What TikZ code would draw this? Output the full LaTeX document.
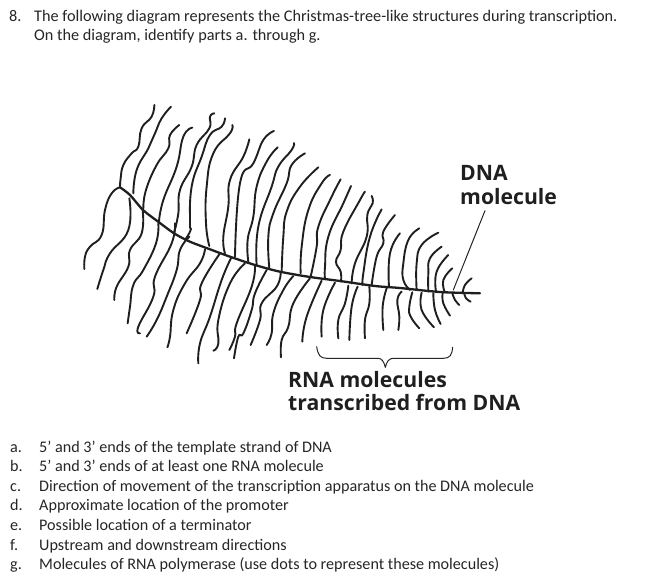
\documentclass[tikz,border=0pt]{standalone}
\usepackage{fontspec}
\setmainfont{Carlito}
\newfontfamily\labelfont{Open Sans}
\tikzset{
  strand/.style={line width=1.9pt,line cap=round,line join=round,color=black!88},
  dnaline/.style={line width=2.3pt,line cap=round,line join=round,color=black!88},
  thinline/.style={line width=1pt,line cap=round,line join=round,color=black!85},
  bodytext/.style={anchor=base west,inner sep=0pt,font=\fontsize{16.25}{18}\selectfont,color=black!85},
  itemtext/.style={anchor=base west,inner sep=0pt,font=\fontsize{16.15}{18}\selectfont,color=black!85},
  boldlabel/.style={anchor=base west,inner sep=0pt,font=\labelfont\bfseries\fontsize{21.2}{24}\selectfont,color=black!88},
  za/.style={shift={(70pt,-90pt)},x=0.3333pt,y=-0.3333pt},
  zb/.style={shift={(280pt,-140pt)},x=0.3333pt,y=-0.3333pt},
  zc/.style={shift={(130pt,-220pt)},x=0.3333pt,y=-0.3333pt},
  zd/.style={shift={(220pt,-240pt)},x=0.3333pt,y=-0.3333pt}
}
\newcommand{\st}[1]{\draw[strand] plot[smooth,tension=0.8] coordinates {#1};}
\begin{document}
\begin{tikzpicture}[x=1pt,y=-1pt]
\useasboundingbox (0,0) rectangle (648,578);
\fill[white] (0,0) rectangle (648,578);
\begin{scope}[za]
% upper strands
\st{(253,45)(245,80)(215,115)(205,170)(185,190)(160,225)(152,265)(150,292)}
\st{(303,50)(275,85)(255,130)(235,175)(200,240)(190,310)}
\st{(328,105)(300,135)(295,175)(260,225)(228,300)(220,355)}
\st{(367,113)(340,140)(320,230)(280,330)(267,395)}
\st{(433,70)(420,80)(418,115)(380,165)(365,230)(330,300)(325,370)(313,425)}
\st{(465,85)(455,110)(420,135)(395,200)(365,290)(360,400)(362,420)(345,450)}
\st{(487,105)(480,130)(430,190)(410,290)(408,400)(418,468)}
\st{(538,148)(520,200)(480,270)(475,350)(460,440)(465,490)}
\st{(612,123)(580,150)(550,220)(510,280)(495,500)}
\st{(623,172)(590,215)(560,290)(550,380)(533,450)(535,515)}
\st{(672,159)(665,180)(625,230)(605,290)(565,410)(560,525)}
\st{(705,190)(665,225)(650,280)(610,370)(595,440)(598,535)}
% lower strands
\st{(150,292)(125,310)(105,360)(95,435)(60,470)(45,500)(43,537)}
\st{(178,325)(175,420)(120,490)(100,540)(82,597)}
\st{(218,360)(215,430)(180,480)(175,530)(140,590)(133,630)}
\end{scope}
\begin{scope}[zc]
\st{(85,10)(78,70)(40,150)(10,195)(0,260)(-7,310)}
\st{(135,10)(125,70)(75,170)(70,230)(25,320)(30,340)}
\st{(178,50)(150,90)(140,150)(110,230)(80,300)(50,350)}
\st{(225,88)(210,130)(165,190)(130,270)(120,350)(112,382)}
\st{(270,100)(215,190)(210,240)(170,340)}
\st{(303,115)(275,180)(240,290)(210,370)(205,430)}
\st{(345,130)(300,190)(265,300)(265,370)(250,392)}
\end{scope}
\begin{scope}[zd]
\st{(105,78)(95,140)(50,250)(45,290)(28,330)}
\st{(140,90)(105,160)(95,210)(70,280)(55,290)(42,355)}
\st{(182,100)(170,140)(125,190)(120,240)(92,315)}
\st{(220,108)(190,150)(160,220)(155,280)(140,315)}
\st{(270,115)(220,190)(205,260)(185,300)(183,352)}
\st{(305,122)(260,230)(247,305)}
\st{(345,128)(310,210)(305,290)}
\end{scope}
\begin{scope}[zb]
\st{(115,82)(60,140)(20,215)(10,290)(5,395)}
\st{(150,105)(125,130)(85,210)(65,320)(62,400)}
\st{(182,118)(155,170)(115,260)(110,320)(92,410)}
\st{(213,138)(190,190)(145,290)(135,380)(135,415)}
\st{(255,155)(240,180)(190,275)(182,330)(168,365)(182,395)(183,425)}
\st{(275,168)(278,190)(262,225)(260,290)(225,370)(215,430)}
\st{(305,208)(270,290)(250,400)(248,435)}
\st{(345,225)(310,275)(310,310)(290,350)(275,435)}
\st{(360,280)(330,340)(327,440)}
\st{(418,265)(385,300)(370,370)(370,420)(390,450)}
\st{(475,278)(425,315)(410,370)(410,450)}
\st{(485,320)(450,355)(445,400)(445,455)}
\st{(505,345)(470,395)(468,455)}
\st{(517,385)(490,420)(495,458)}
\st{(575,415)(555,435)(548,460)}
\st{(205,437)(195,490)(175,540)(175,595)}
\st{(233,440)(215,500)(208,600)}
\st{(268,440)(268,490)(255,540)(255,595)}
\st{(320,445)(308,500)(310,570)}
\st{(365,455)(352,480)(358,530)(355,570)}
\st{(397,457)(388,500)(392,530)(418,565)}
\st{(425,458)(425,510)(462,562)}
\st{(460,460)(465,510)(482,552)}
\st{(488,460)(490,490)(510,527)}
\st{(517,460)(525,480)(538,495)}
\st{(553,460)(558,475)(572,485)}
\draw[thinline] (615,212) -- (520,450);
\draw[thinline] (110,620) .. controls (114,645) and (120,655) .. (140,655) -- (295,655) .. controls (305,655) and (312,665) .. (316,682) .. controls (320,665) and (327,655) .. (340,655) -- (490,655) .. controls (510,655) and (516,645) .. (518,622);
\end{scope}
% DNA axis
\draw[dnaline] plot[smooth,tension=0.5] coordinates {(120,187.3)(130,195)(143,210)(159,222.3)(174,233.3)(190,241.7)(210,249.3)(230,256.7)(255,265)(280,271.7)(310,277)(340,281)(375,286)(400,288)(440,292)(480,293.3)};
% text
\node[bodytext] (q1) at (9,22) {8.};
\node[bodytext] (q2) at (34,22) {The following diagram represents the Christmas-tree-like structures during transcription.};
\node[bodytext] (q3) at (34,41) {On the diagram, identify parts a. through g.};
\node[boldlabel] (dna1) at (460,180) {DNA};
\node[boldlabel] (dna2) at (460,204) {molecule};
\node[boldlabel] (rna1) at (288,387) {RNA molecules};
\node[boldlabel] (rna2) at (288,410) {transcribed from DNA};
\node[itemtext] (la) at (10,452) {a.};
\node[itemtext] (ta) at (39,452) {5' and 3' ends of the template strand of DNA};
\node[itemtext] (lb) at (10,471.5) {b.};
\node[itemtext] (tb) at (39,471.5) {5' and 3' ends of at least one RNA molecule};
\node[itemtext] (lc) at (10,491) {c.};
\node[itemtext] (tc) at (39,491) {Direction of movement of the transcription apparatus on the DNA molecule};
\node[itemtext] (ld) at (10,510.5) {d.};
\node[itemtext] (td) at (39,510.5) {Approximate location of the promoter};
\node[itemtext] (le) at (10,530) {e.};
\node[itemtext] (te) at (39,530) {Possible location of a terminator};
\node[itemtext] (lf) at (10,550) {f.};
\node[itemtext] (tf) at (39,550) {Upstream and downstream directions};
\node[itemtext] (lg) at (10,569.5) {g.};
\node[itemtext] (tg) at (39,569.5) {Molecules of RNA polymerase (use dots to represent these molecules)};
\end{tikzpicture}
\end{document}
